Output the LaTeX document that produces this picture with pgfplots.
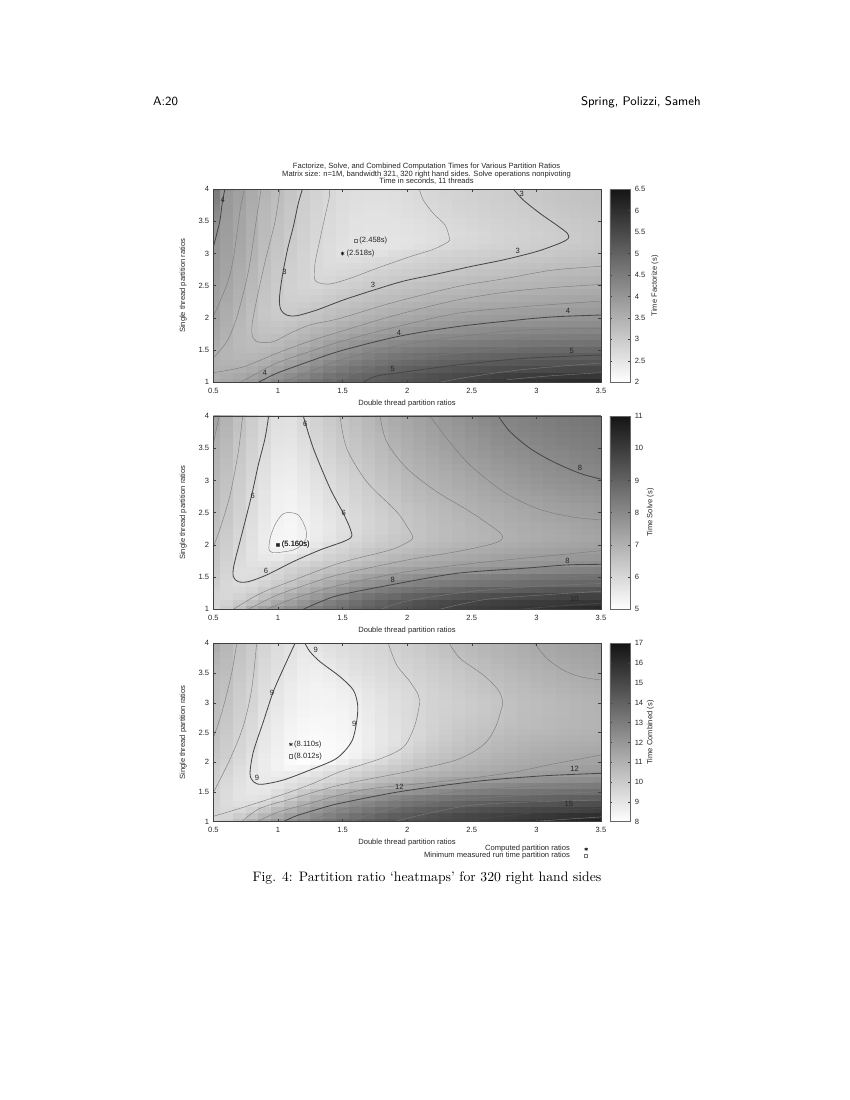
\documentclass[border=0pt]{standalone}
\usepackage{fontspec}
\usepackage{pgfplots}
\usepackage{pgfplotstable}
\pgfplotsset{compat=1.18}
\newfontfamily\hel{Liberation Sans}
\newcommand{\cf}{\hel\fontsize{5.48}{5.4}\selectfont}

% one grid cell of the heat map, half sizes in bp
\pgfdeclareplotmark{cellA}{\pgfpathrectangle{\pgfpoint{-4.75bp}{-2.4bp}}{\pgfpoint{9.5bp}{4.8bp}}\pgfusepathqfill}
\pgfdeclareplotmark{cellB}{\pgfpathrectangle{\pgfpoint{-4.75bp}{-2.22bp}}{\pgfpoint{9.5bp}{4.44bp}}\pgfusepathqfill}

\pgfplotsset{
  lt/.style={forget plot, smooth, no marks, draw=black!52, line width=0.3bp},
  dk/.style={forget plot, smooth, no marks, draw=black!72, line width=0.6bp},
  star/.style={only marks, mark=asterisk, mark size=1.3bp, mark options={line width=0.45bp}, black!90},
  box/.style={only marks, mark=square, mark size=1.1bp, draw=black!55},
  heat/.style={
    scale only axis, width=279.1bp, anchor=south west,
    clip marker paths=true,
    xmin=0.5, xmax=3.5, ymin=1, ymax=4,
    xtick={0.5,1,1.5,2,2.5,3,3.5}, ytick={1,1.5,2,2.5,3,3.5,4},
    xticklabels={0.5,1,1.5,2,2.5,3,3.5}, yticklabels={1,1.5,2,2.5,3,3.5,4},
    /pgf/number format/assume math mode=true,
    tick align=inside, major tick length=2bp, axis on top,
    axis line style={black!75, line width=0.4bp},
    tick style={black!75, line width=0.3bp},
    every tick label/.append style={font=\cf, text=black!85},
    x tick label style={yshift=-0.8bp},
    y tick label style={xshift=0.5bp},
    xlabel style={font=\cf, text=black!85, at={(axis description cs:0.4996,-0.11)}, anchor=center},
    ylabel style={font=\cf, text=black!85, at={(axis description cs:-0.078,0.5)}, anchor=center},
    xlabel={Double thread partition ratios},
    ylabel={Single thread partition ratios},
    colormap={wb}{color(0)=(white) color(1)=(black!92)},
    colorbar shift/.style={xshift=-0.7bp},
  },
  cbar/.style={colorbar, colorbar style={
      width=14.4bp, ytick={#1}, yticklabels={#1},
      /pgf/number format/assume math mode=true,
      tick align=inside, major tick length=1.5bp,
      axis line style={black!60, line width=0.4bp},
      tick style={black!75, line width=0.3bp},
      ytick pos=both, yticklabel pos=right,
      every tick label/.append style={font=\cf, text=black!85},
  }},
  cblab/.style 2 args={colorbar style={ylabel={#1},
      ylabel style={font=\cf, text=black!85, at={(axis description cs:#2,0.5)}, anchor=center, rotate=0}}},
}

\pgfplotstableread{
y c0 c1 c2 c3 c4 c5 c6 c7 c8 c9 c10 c11 c12 c13 c14 c15 c16 c17 c18 c19 c20 c21 c22 c23 c24 c25 c26 c27 c28 c29 c30
4.0 4.55 3.98 3.82 3.62 3.42  3.28 3.12 2.98 2.86 2.75  2.68 2.64 2.62 2.63 2.66  2.70 2.75 2.79 2.83 2.86  2.89 2.92 2.95 2.98 3.02  3.06 3.09 3.12 3.15 3.18  3.21
3.9 4.48 3.95 3.79 3.60 3.40  3.26 3.10 2.96 2.84 2.74  2.66 2.62 2.60 2.61 2.63  2.67 2.72 2.77 2.81 2.84  2.87 2.91 2.94 2.97 3.01  3.05 3.08 3.11 3.14 3.17  3.20
3.8 4.40 3.93 3.77 3.58 3.38  3.24 3.08 2.94 2.82 2.73  2.65 2.60 2.59 2.59 2.61  2.65 2.69 2.75 2.79 2.83  2.86 2.90 2.93 2.96 3.00  3.03 3.06 3.10 3.13 3.16  3.18
3.7 4.30 3.92 3.75 3.56 3.36  3.22 3.06 2.93 2.81 2.72  2.64 2.59 2.57 2.57 2.59  2.62 2.66 2.72 2.77 2.81  2.84 2.88 2.91 2.94 2.97  3.00 3.04 3.08 3.11 3.14  3.15
3.6 4.22 3.90 3.72 3.54 3.34  3.20 3.05 2.92 2.80 2.71  2.63 2.58 2.56 2.56 2.57  2.60 2.64 2.69 2.74 2.78  2.82 2.86 2.89 2.92 2.95  2.98 3.01 3.05 3.08 3.11  3.13
3.5 4.15 3.88 3.71 3.52 3.32  3.18 3.04 2.91 2.79 2.70  2.62 2.56 2.55 2.55 2.56  2.58 2.61 2.66 2.71 2.75  2.79 2.83 2.86 2.89 2.92  2.95 2.98 3.01 3.05 3.08  3.11
3.4 4.05 3.86 3.70 3.51 3.30  3.16 3.02 2.90 2.78 2.69  2.61 2.55 2.53 2.53 2.54  2.56 2.59 2.62 2.68 2.72  2.76 2.80 2.84 2.87 2.90  2.93 2.96 2.99 3.03 3.07  3.10
3.3 4.03 3.85 3.69 3.50 3.29  3.14 3.00 2.88 2.77 2.68  2.60 2.53 2.52 2.52 2.53  2.55 2.57 2.60 2.65 2.69  2.73 2.77 2.81 2.84 2.87  2.90 2.93 2.97 3.01 3.05  3.09
3.2 4.01 3.83 3.67 3.48 3.28  3.12 2.99 2.87 2.76 2.67  2.59 2.52 2.51 2.50 2.51  2.53 2.56 2.60 2.66 2.72  2.75 2.79 2.82 2.85 2.88  2.91 2.94 2.97 3.00 3.04  3.08
3.1 3.99 3.81 3.65 3.46 3.26  3.10 2.97 2.85 2.75 2.65  2.58 2.52 2.50 2.50 2.51  2.56 2.60 2.65 2.71 2.76  2.79 2.83 2.86 2.89 2.92  2.95 2.98 3.01 3.04 3.07  3.10
3.0 3.97 3.79 3.63 3.44 3.24  3.08 2.95 2.84 2.73 2.64  2.57 2.52 2.53 2.58 2.64  2.70 2.75 2.80 2.84 2.87  2.89 2.92 2.95 2.97 3.00  3.03 3.05 3.08 3.11 3.14  3.17
2.9 3.95 3.77 3.61 3.42 3.22  3.06 2.93 2.83 2.72 2.64  2.60 2.63 2.67 2.71 2.75  2.79 2.83 2.87 2.91 2.94  2.97 3.00 3.03 3.05 3.08  3.11 3.13 3.16 3.19 3.22  3.24
2.8 3.93 3.75 3.59 3.40 3.20  3.05 2.92 2.82 2.72 2.66  2.68 2.71 2.75 2.79 2.83  2.87 2.91 2.95 2.99 3.02  3.05 3.08 3.11 3.13 3.16  3.19 3.21 3.23 3.25 3.26  3.27
2.7 3.90 3.73 3.57 3.38 3.18  3.03 2.90 2.81 2.73 2.70  2.74 2.78 2.83 2.87 2.91  2.96 3.00 3.04 3.07 3.10  3.14 3.17 3.19 3.22 3.25  3.28 3.30 3.32 3.34 3.36  3.38
2.6 3.87 3.71 3.55 3.36 3.16  3.02 2.89 2.81 2.75 2.76  2.81 2.86 2.91 2.96 3.01  3.05 3.09 3.13 3.16 3.20  3.23 3.26 3.28 3.31 3.33  3.36 3.38 3.40 3.42 3.44  3.46
2.5 3.83 3.69 3.52 3.34 3.14  3.00 2.88 2.81 2.78 2.83  2.89 2.94 3.00 3.05 3.10  3.14 3.18 3.22 3.25 3.28  3.32 3.35 3.37 3.39 3.41  3.43 3.45 3.47 3.49 3.50  3.51
2.4 3.80 3.66 3.49 3.31 3.12  2.99 2.88 2.84 2.85 2.91  2.98 3.04 3.09 3.14 3.19  3.23 3.27 3.31 3.35 3.38  3.41 3.44 3.46 3.48 3.51  3.53 3.55 3.57 3.59 3.60  3.61
2.3 3.78 3.63 3.46 3.29 3.10  2.98 2.91 2.90 2.93 2.99  3.06 3.13 3.18 3.23 3.28  3.33 3.37 3.41 3.45 3.48  3.51 3.54 3.56 3.59 3.61  3.63 3.65 3.67 3.69 3.71  3.72
2.2 3.77 3.60 3.44 3.26 3.08  2.98 2.95 2.97 3.02 3.08  3.15 3.22 3.28 3.34 3.39  3.44 3.48 3.52 3.56 3.59  3.62 3.65 3.67 3.69 3.72  3.74 3.76 3.78 3.80 3.81  3.83
2.1 3.76 3.57 3.41 3.23 3.07  2.99 2.99 3.04 3.11 3.18  3.25 3.32 3.38 3.44 3.50  3.55 3.60 3.64 3.68 3.71  3.74 3.77 3.79 3.81 3.84  3.86 3.88 3.89 3.91 3.93  3.95
2.0 3.75 3.54 3.38 3.22 3.08  3.01 3.02 3.08 3.17 3.25  3.33 3.41 3.48 3.55 3.62  3.66 3.71 3.75 3.79 3.83  3.86 3.89 3.91 3.93 3.95  3.97 3.99 4.01 4.03 4.05  4.06
1.9 3.71 3.52 3.36 3.22 3.12  3.08 3.12 3.20 3.29 3.38  3.47 3.54 3.62 3.69 3.75  3.81 3.85 3.90 3.94 3.98  4.00 4.03 4.05 4.07 4.10  4.12 4.14 4.15 4.17 4.18  4.19
1.8 3.67 3.49 3.34 3.23 3.16  3.15 3.22 3.31 3.41 3.51  3.60 3.68 3.76 3.83 3.90  3.95 4.00 4.04 4.08 4.12  4.15 4.18 4.20 4.22 4.25  4.27 4.28 4.30 4.31 4.32  4.33
1.7 3.63 3.46 3.32 3.25 3.21  3.23 3.31 3.41 3.52 3.64  3.74 3.84 3.92 3.98 4.05  4.10 4.16 4.20 4.24 4.27  4.31 4.33 4.36 4.38 4.40  4.42 4.44 4.45 4.47 4.48  4.49
1.6 3.58 3.43 3.31 3.27 3.26  3.31 3.41 3.53 3.66 3.80  3.92 4.03 4.11 4.18 4.24  4.30 4.35 4.39 4.43 4.47  4.50 4.53 4.56 4.58 4.60  4.62 4.64 4.66 4.67 4.68  4.69
1.5 3.53 3.40 3.33 3.30 3.34  3.40 3.51 3.65 3.80 3.92  4.05 4.16 4.26 4.35 4.42  4.49 4.54 4.59 4.64 4.68  4.71 4.74 4.77 4.79 4.81  4.83 4.85 4.86 4.87 4.88  4.89
1.4 3.49 3.41 3.37 3.37 3.43  3.52 3.64 3.79 3.94 4.08  4.20 4.31 4.42 4.52 4.60  4.67 4.72 4.78 4.83 4.87  4.91 4.94 4.97 4.99 5.01  5.03 5.04 5.05 5.06 5.07  5.08
1.3 3.48 3.44 3.43 3.46 3.55  3.66 3.79 3.94 4.10 4.24  4.36 4.48 4.59 4.69 4.78  4.85 4.90 4.96 5.01 5.05  5.09 5.13 5.16 5.18 5.20  5.22 5.23 5.24 5.25 5.26  5.27
1.2 3.50 3.50 3.53 3.60 3.70  3.83 3.96 4.12 4.28 4.43  4.56 4.68 4.79 4.88 4.97  5.03 5.09 5.15 5.20 5.25  5.30 5.34 5.37 5.40 5.43  5.45 5.47 5.48 5.50 5.51  5.52
1.1 3.53 3.58 3.66 3.75 3.88  4.03 4.17 4.33 4.49 4.64  4.77 4.87 4.96 5.04 5.12  5.19 5.26 5.33 5.39 5.45  5.51 5.56 5.61 5.65 5.69  5.72 5.75 5.77 5.79 5.80  5.81
1.0 3.58 3.65 3.74 3.88 4.06  4.22 4.38 4.54 4.68 4.82  4.92 4.97 5.04 5.12 5.19  5.25 5.31 5.38 5.47 5.55  5.60 5.68 5.75 5.80 5.85  5.90 5.94 5.98 6.02 6.05  6.08
}\tabF

\pgfplotstableread{
y c0 c1 c2 c3 c4 c5 c6 c7 c8 c9 c10 c11 c12 c13 c14 c15 c16 c17 c18 c19 c20 c21 c22 c23 c24 c25 c26 c27 c28 c29 c30
4.0 7.40 6.95 6.62 6.30 6.05  5.80 5.78 6.00 6.18 6.35  6.50 6.66 6.82 7.00 7.13  7.25 7.38 7.50 7.62 7.74  7.86 8.00 8.07 8.14 8.20  8.26 8.32 8.38 8.43 8.49  8.55
3.9 7.28 6.90 6.58 6.27 6.02  5.78 5.76 5.97 6.14 6.31  6.47 6.62 6.78 6.95 7.10  7.22 7.34 7.46 7.58 7.70  7.82 7.94 8.04 8.10 8.16  8.22 8.28 8.34 8.40 8.45  8.50
3.8 7.18 6.86 6.54 6.24 6.00  5.76 5.73 5.93 6.11 6.28  6.44 6.58 6.74 6.90 7.06  7.18 7.30 7.42 7.54 7.65  7.77 7.88 7.98 8.06 8.12  8.18 8.24 8.30 8.36 8.41  8.46
3.7 7.08 6.82 6.50 6.21 5.97  5.73 5.70 5.88 6.07 6.24  6.40 6.54 6.69 6.84 7.00  7.14 7.26 7.38 7.49 7.60  7.71 7.82 7.92 8.00 8.07  8.13 8.19 8.25 8.31 8.36  8.41
3.6 7.00 6.78 6.46 6.18 5.94  5.70 5.66 5.84 6.03 6.20  6.36 6.50 6.64 6.79 6.95  7.08 7.21 7.33 7.44 7.55  7.65 7.75 7.86 7.94 8.00  8.07 8.13 8.19 8.25 8.30  8.35
3.5 6.95 6.74 6.42 6.15 5.90  5.66 5.62 5.79 5.98 6.15  6.32 6.46 6.60 6.74 6.90  7.02 7.15 7.27 7.38 7.49  7.59 7.69 7.79 7.87 7.94  8.00 8.07 8.13 8.19 8.25  8.30
3.4 6.92 6.70 6.39 6.12 5.86  5.62 5.58 5.74 5.93 6.10  6.27 6.41 6.55 6.69 6.84  6.97 7.09 7.21 7.32 7.43  7.53 7.62 7.72 7.81 7.88  7.94 8.00 8.06 8.12 8.18  8.23
3.3 6.89 6.66 6.36 6.09 5.82  5.58 5.54 5.70 5.88 6.04  6.21 6.36 6.50 6.64 6.78  6.92 7.03 7.14 7.25 7.36  7.46 7.55 7.64 7.73 7.81  7.88 7.94 8.00 8.06 8.12  8.17
3.2 6.86 6.62 6.33 6.06 5.78  5.54 5.50 5.66 5.83 5.99  6.15 6.30 6.45 6.59 6.73  6.87 6.98 7.08 7.18 7.28  7.38 7.48 7.56 7.65 7.73  7.81 7.88 7.94 8.00 8.06  8.11
3.1 6.83 6.58 6.30 6.03 5.76  5.50 5.46 5.62 5.78 5.94  6.10 6.25 6.40 6.54 6.68  6.82 6.93 7.02 7.12 7.21  7.31 7.40 7.49 7.58 7.66  7.74 7.81 7.87 7.93 7.99  8.05
3.0 6.80 6.55 6.27 6.00 5.73  5.46 5.44 5.59 5.74 5.90  6.05 6.20 6.35 6.49 6.63  6.77 6.88 6.97 7.06 7.15  7.24 7.33 7.42 7.51 7.59  7.67 7.74 7.80 7.86 7.92  7.98
2.9 6.77 6.52 6.24 5.97 5.70  5.43 5.40 5.54 5.70 5.86  6.00 6.15 6.30 6.44 6.58  6.72 6.83 6.92 7.01 7.10  7.18 7.27 7.36 7.44 7.52  7.60 7.66 7.72 7.78 7.84  7.90
2.8 6.75 6.49 6.21 5.94 5.67  5.40 5.36 5.50 5.66 5.82  5.96 6.10 6.25 6.39 6.53  6.67 6.78 6.87 6.96 7.04  7.12 7.20 7.28 7.36 7.44  7.51 7.57 7.63 7.69 7.75  7.80
2.7 6.72 6.47 6.19 5.92 5.65  5.38 5.33 5.46 5.62 5.78  5.92 6.06 6.20 6.34 6.48  6.62 6.72 6.81 6.90 6.98  7.06 7.13 7.20 7.28 7.35  7.42 7.48 7.54 7.59 7.64  7.69
2.6 6.68 6.45 6.17 5.90 5.63  5.36 5.30 5.43 5.58 5.74  5.88 6.02 6.16 6.29 6.43  6.56 6.66 6.75 6.84 6.92  7.00 7.07 7.14 7.21 7.28  7.34 7.40 7.45 7.50 7.55  7.60
2.5 6.65 6.43 6.14 5.87 5.60  5.35 5.28 5.40 5.53 5.68  5.83 5.97 6.11 6.24 6.37  6.50 6.60 6.70 6.79 6.87  6.95 7.02 7.09 7.16 7.22  7.28 7.34 7.39 7.44 7.49  7.53
2.4 6.62 6.40 6.11 5.83 5.57  5.33 5.26 5.37 5.50 5.64  5.79 5.94 6.07 6.20 6.33  6.46 6.56 6.66 6.75 6.83  6.91 6.98 7.04 7.11 7.17  7.23 7.28 7.33 7.38 7.42  7.46
2.3 6.59 6.37 6.08 5.80 5.54  5.30 5.24 5.35 5.48 5.62  5.78 5.93 6.06 6.19 6.31  6.44 6.54 6.63 6.72 6.79  6.87 6.93 6.99 7.05 7.11  7.17 7.22 7.27 7.32 7.36  7.40
2.2 6.56 6.33 6.05 5.77 5.51  5.28 5.23 5.33 5.47 5.62  5.78 5.94 6.08 6.20 6.31  6.43 6.53 6.62 6.70 6.77  6.84 6.90 6.96 7.01 7.07  7.12 7.17 7.22 7.26 7.30  7.34
2.1 6.53 6.28 6.02 5.75 5.49  5.26 5.22 5.34 5.50 5.67  5.85 6.00 6.15 6.28 6.39  6.48 6.56 6.63 6.70 6.77  6.83 6.89 6.95 7.00 7.05  7.10 7.15 7.19 7.23 7.27  7.31
2.0 6.50 6.24 5.98 5.73 5.48  5.22 5.24 5.40 5.60 5.82  6.00 6.12 6.24 6.36 6.46  6.55 6.63 6.72 6.80 6.88  6.94 7.00 7.05 7.10 7.15  7.20 7.24 7.28 7.32 7.36  7.40
1.9 6.48 6.20 5.96 5.72 5.50  5.35 5.40 5.60 5.82 5.98  6.13 6.27 6.42 6.52 6.60  6.70 6.80 6.88 6.96 7.02  7.08 7.14 7.19 7.24 7.29  7.34 7.38 7.42 7.46 7.49  7.52
1.8 6.45 6.16 5.92 5.72 5.58  5.55 5.68 5.85 6.00 6.14  6.28 6.43 6.56 6.68 6.80  6.90 6.98 7.05 7.12 7.18  7.24 7.29 7.35 7.40 7.45  7.50 7.54 7.58 7.62 7.65  7.68
1.7 6.42 6.12 5.88 5.75 5.72  5.85 5.98 6.10 6.24 6.38  6.52 6.65 6.78 6.90 7.00  7.08 7.16 7.24 7.32 7.38  7.44 7.50 7.55 7.60 7.65  7.70 7.74 7.78 7.82 7.85  7.88
1.6 6.38 6.08 5.84 5.80 5.88  6.02 6.17 6.32 6.47 6.62  6.78 6.92 7.06 7.18 7.30  7.38 7.46 7.53 7.60 7.66  7.72 7.78 7.84 7.90 7.96  8.00 8.05 8.10 8.15 8.18  8.22
1.5 6.33 6.04 5.85 5.87 5.95  6.12 6.30 6.47 6.66 6.88  7.03 7.24 7.42 7.55 7.66  7.78 7.88 7.96 8.03 8.10  8.16 8.22 8.28 8.33 8.38  8.45 8.50 8.54 8.58 8.60  8.62
1.4 6.25 6.00 5.90 5.95 6.10  6.30 6.50 6.70 6.92 7.14  7.35 7.58 7.75 7.88 8.00  8.10 8.20 8.28 8.35 8.41  8.47 8.53 8.58 8.63 8.68  8.73 8.77 8.80 8.83 8.85  8.87
1.3 6.15 5.98 6.00 6.10 6.32  6.55 6.78 7.00 7.25 7.50  7.75 7.95 8.15 8.30 8.42  8.52 8.62 8.72 8.80 8.88  8.95 9.00 9.05 9.10 9.15  9.20 9.24 9.28 9.30 9.33  9.36
1.2 6.08 6.02 6.12 6.32 6.60  6.85 7.10 7.35 7.60 7.85  8.10 8.35 8.55 8.70 8.82  8.95 9.05 9.15 9.25 9.33  9.40 9.46 9.52 9.57 9.62  9.66 9.70 9.74 9.77 9.79  9.81
1.1 6.05 6.15 6.38 6.62 6.90  7.20 7.45 7.72 7.98 8.25  8.45 8.65 8.85 9.02 9.18  9.30 9.42 9.53 9.62 9.70  9.75 9.80 9.85 9.90 9.95  9.98 10.01 10.05 10.08 10.10  10.12
1.0 5.98 6.28 6.58 7.10 7.40  7.65 7.88 8.02 8.30 8.50  8.63 8.85 9.05 9.15 9.28  9.40 9.52 9.60 9.75 9.85  9.90 9.95 10.00 10.05 10.08  10.15 10.20 10.26 10.32 10.38  10.45
}\tabS

\pgfplotstableread{
y c0 c1 c2 c3 c4 c5 c6 c7 c8 c9 c10 c11 c12 c13 c14 c15 c16 c17 c18 c19 c20 c21 c22 c23 c24 c25 c26 c27 c28 c29 c30
4.0 11.20 10.75 10.35 10.05 9.65  9.35 9.15 8.98 9.05 9.20  9.30 9.40 9.52 9.65 9.78  9.90 10.05 10.25 10.40 10.55  10.67 10.79 10.91 11.03 11.15  11.27 11.37 11.48 11.58 11.66  11.75
3.9 11.08 10.70 10.30 10.00 9.60  9.30 9.10 8.92 8.98 9.13  9.26 9.36 9.47 9.60 9.75  9.86 10.00 10.18 10.34 10.50  10.62 10.75 10.87 10.99 11.11  11.22 11.33 11.42 11.52 11.60  11.68
3.8 10.95 10.65 10.25 9.95 9.55  9.27 9.05 8.84 8.88 9.05  9.20 9.32 9.44 9.56 9.68  9.81 9.94 10.10 10.27 10.43  10.56 10.70 10.82 10.94 11.05  11.16 11.26 11.35 11.44 11.52  11.60
3.7 10.85 10.60 10.20 9.90 9.50  9.22 9.00 8.78 8.80 8.95  9.12 9.26 9.38 9.50 9.63  9.75 9.87 10.02 10.18 10.34  10.48 10.60 10.74 10.87 10.98  11.08 11.18 11.27 11.36 11.44  11.52
3.6 10.75 10.55 10.15 9.85 9.45  9.18 8.94 8.72 8.70 8.84  9.02 9.18 9.30 9.42 9.55  9.68 9.82 9.95 10.10 10.24  10.38 10.52 10.64 10.77 10.89  10.99 11.09 11.18 11.27 11.35  11.43
3.5 10.65 10.50 10.10 9.78 9.40  9.13 8.89 8.67 8.62 8.74  8.90 9.10 9.24 9.36 9.48  9.61 9.75 9.88 10.03 10.15  10.28 10.42 10.54 10.66 10.78  10.89 10.99 11.09 11.17 11.25  11.33
3.4 10.60 10.45 10.05 9.72 9.35  9.08 8.84 8.62 8.56 8.64  8.80 8.98 9.16 9.30 9.43  9.56 9.69 9.82 9.96 10.09  10.22 10.34 10.47 10.58 10.70  10.81 10.91 11.00 11.08 11.15  11.22
3.3 10.57 10.40 10.00 9.68 9.30  9.03 8.78 8.58 8.50 8.56  8.70 8.87 9.05 9.22 9.37  9.50 9.63 9.76 9.90 10.02  10.15 10.27 10.40 10.52 10.63  10.74 10.84 10.93 11.02 11.08  11.15
3.2 10.55 10.35 9.95 9.65 9.25  8.98 8.72 8.54 8.47 8.50  8.62 8.78 8.96 9.13 9.30  9.45 9.58 9.70 9.84 9.96  10.08 10.20 10.33 10.46 10.56  10.67 10.76 10.85 10.94 11.01  11.08
3.1 10.53 10.30 9.90 9.62 9.20  8.93 8.68 8.50 8.44 8.47  8.56 8.70 8.90 9.08 9.25  9.40 9.55 9.68 9.78 9.90  10.02 10.14 10.26 10.39 10.50  10.60 10.68 10.77 10.85 10.92  10.98
3.0 10.50 10.27 9.85 9.60 9.15  8.90 8.65 8.48 8.41 8.44  8.50 8.64 8.84 9.03 9.22  9.38 9.53 9.68 9.74 9.85  9.98 10.10 10.22 10.36 10.47  10.53 10.62 10.71 10.79 10.86  10.94
2.9 10.48 10.22 9.82 9.55 9.10  8.85 8.60 8.44 8.38 8.40  8.46 8.60 8.80 9.00 9.20  9.36 9.52 9.68 9.78 9.88  9.99 10.11 10.23 10.36 10.48  10.55 10.63 10.71 10.79 10.85  10.92
2.8 10.45 10.18 9.78 9.50 9.07  8.81 8.55 8.40 8.34 8.36  8.43 8.57 8.78 8.98 9.18  9.36 9.53 9.67 9.80 9.92  10.01 10.12 10.25 10.38 10.50  10.56 10.64 10.72 10.79 10.85  10.90
2.7 10.42 10.14 9.75 9.46 9.03  8.78 8.50 8.36 8.30 8.32  8.40 8.55 8.76 8.96 9.16  9.35 9.53 9.68 9.83 9.96  10.07 10.18 10.29 10.40 10.51  10.58 10.66 10.73 10.80 10.85  10.90
2.6 10.38 10.10 9.71 9.42 9.00  8.74 8.46 8.32 8.27 8.29  8.37 8.52 8.72 8.94 9.14  9.34 9.53 9.70 9.87 10.03  10.15 10.26 10.37 10.47 10.54  10.60 10.68 10.75 10.80 10.85  10.90
2.5 10.35 10.05 9.68 9.38 8.96  8.70 8.42 8.29 8.24 8.26  8.34 8.50 8.70 8.92 9.12  9.34 9.54 9.72 9.92 10.08  10.22 10.34 10.45 10.56 10.64  10.70 10.76 10.82 10.87 10.91  10.95
2.4 10.32 10.00 9.65 9.33 8.91  8.66 8.38 8.24 8.20 8.22  8.30 8.47 8.68 8.90 9.12  9.36 9.58 9.78 9.98 10.15  10.31 10.44 10.55 10.65 10.75  10.81 10.86 10.92 10.97 11.01  11.05
2.3 10.28 9.95 9.60 9.28 8.87  8.62 8.34 8.20 8.12 8.18  8.28 8.45 8.68 8.92 9.16  9.42 9.66 9.90 10.08 10.25  10.40 10.53 10.65 10.75 10.85  10.92 10.98 11.04 11.08 11.12  11.15
2.2 10.22 9.90 9.55 9.20 8.82  8.58 8.30 8.16 8.10 8.16  8.28 8.46 8.72 9.00 9.28  9.55 9.80 10.03 10.20 10.37  10.50 10.63 10.75 10.85 10.95  11.03 11.10 11.16 11.20 11.24  11.27
2.1 10.15 9.85 9.48 9.12 8.76  8.53 8.26 8.12 8.08 8.18  8.34 8.54 8.84 9.15 9.45  9.72 9.98 10.18 10.33 10.50  10.64 10.76 10.88 10.98 11.07  11.15 11.22 11.28 11.33 11.38  11.42
2.0 10.05 9.75 9.40 9.05 8.72  8.48 8.20 8.08 8.15 8.35  8.62 8.92 9.20 9.46 9.72  9.95 10.18 10.35 10.50 10.65  10.78 10.90 11.02 11.12 11.20  11.26 11.33 11.40 11.46 11.52  11.55
1.9 9.95 9.65 9.30 8.98 8.72  8.48 8.35 8.42 8.68 8.92  9.15 9.38 9.60 9.82 10.02  10.22 10.40 10.56 10.72 10.86  10.98 11.08 11.18 11.28 11.37  11.45 11.52 11.58 11.64 11.68  11.72
1.8 9.87 9.55 9.22 8.93 8.75  8.68 8.72 8.85 9.05 9.28  9.50 9.72 9.95 10.18 10.38  10.56 10.72 10.88 11.02 11.15  11.27 11.37 11.46 11.54 11.62  11.70 11.76 11.82 11.88 11.94  12.00
1.7 9.82 9.48 9.15 8.90 8.80  8.88 9.00 9.18 9.38 9.58  9.80 10.05 10.30 10.55 10.76  10.95 11.12 11.30 11.45 11.58  11.70 11.80 11.90 12.00 12.06  12.13 12.19 12.25 12.30 12.35  12.40
1.6 9.78 9.42 9.10 8.92 8.88  9.00 9.20 9.45 9.72 9.98  10.24 10.52 10.78 11.02 11.25  11.45 11.65 11.84 12.00 12.12  12.24 12.35 12.45 12.55 12.65  12.72 12.79 12.85 12.92 12.98  13.04
1.5 9.73 9.35 9.05 8.92 8.96  9.25 9.65 10.02 10.36 10.70  11.03 11.28 11.52 11.72 11.90  12.05 12.20 12.35 12.50 12.68  12.82 12.95 13.05 13.14 13.22  13.28 13.34 13.40 13.45 13.50  13.55
1.4 9.70 9.32 9.08 9.02 9.15  9.50 9.95 10.45 10.90 11.25  11.55 11.85 12.08 12.32 12.55  12.75 12.95 13.12 13.26 13.38  13.50 13.58 13.66 13.73 13.80  13.87 13.93 13.99 14.04 14.08  14.12
1.3 9.65 9.35 9.22 9.28 9.55  10.05 10.55 11.02 11.42 11.75  12.05 12.35 12.62 12.88 13.12  13.32 13.50 13.64 13.78 13.92  14.04 14.14 14.24 14.33 14.42  14.50 14.56 14.62 14.68 14.72  14.76
1.2 9.60 9.42 9.50 9.75 10.18  10.65 11.10 11.55 11.95 12.30  12.62 12.92 13.20 13.45 13.66  13.85 14.02 14.18 14.32 14.46  14.58 14.70 14.80 14.88 14.95  15.02 15.08 15.14 15.20 15.25  15.30
1.1 9.60 9.60 9.90 10.30 10.80  11.25 11.68 12.05 12.42 12.78  13.12 13.42 13.68 13.92 14.13  14.30 14.48 14.63 14.78 14.92  15.03 15.13 15.22 15.30 15.42  15.52 15.63 15.72 15.80 15.88  15.95
1.0 9.60 9.80 10.40 11.00 11.45  11.95 12.32 12.68 13.05 13.35  13.62 13.88 14.10 14.30 14.42  14.58 14.72 14.85 14.96 15.04  15.12 15.28 15.38 15.52 15.64  15.80 15.94 16.08 16.20 16.32  16.42
}\tabC

\begin{document}
\begin{tikzpicture}
\path[use as bounding box] (0,0) rectangle (612bp,792bp);

\node[anchor=base west, inner sep=0pt, font=\sffamily\fontsize{9}{11}\selectfont] at (110bp,715.9bp) {A:20};
\node[anchor=base east, inner sep=0pt, font=\sffamily\fontsize{9}{11}\selectfont] at (504.7bp,715.9bp) {Spring, Polizzi, Sameh};

% ---- factorize
\begin{axis}[heat, at={(153.6bp,516.7bp)}, height=139.2bp,
    point meta min=2, point meta max=6.5,
    cbar={2,2.5,3,3.5,4,4.5,5,5.5,6,6.5},
    cblab={Time Factorize (s)}{2.25},
    title style={font=\cf, text=black!85, at={(axis description cs:0.55,0.955)}, anchor=south, align=center},
    title={Factorize, Solve, and Combined Computation Times for Various Partition Ratios\\Matrix size: n=1M, bandwidth 321, 320 right hand sides. Solve operations nonpivoting\\Time in seconds, 11 threads},
  ]
  \pgfplotsinvokeforeach{0,...,30}{
    \addplot[forget plot, scatter, only marks, mark=cellA, point meta=explicit,
      scatter/use mapped color={draw=none, fill=mapped color}]
      table[x expr=0.5+0.1*#1, y=y, meta=c#1] {\tabF};
  }
  \addplot[dk] coordinates {(.59,4)(.57,3.8)(.55,3.5)(.5,3.1)};
  \addplot[lt] coordinates {(.74,4)(.706,3.65)(.655,2.92)(.603,2.51)(.5,2.02)};
  \addplot[lt] coordinates {(.869,4)(.835,3.55)(.771,2.72)(.68,2)(.603,1.63)(.5,1.38)};
  \addplot[lt] coordinates {(1.016,4)(.977,3.49)(.9,2.87)(.822,2.15)(.797,1.84)(.81,1.68)(.861,1.62)(.964,1.63)(1.093,1.76)(1.248,1.89)(1.481,1.993)(1.868,2.226)(2.384,2.484)(2.77,2.614)(3.13,2.743)(3.5,2.8)};
  \addplot[dk] coordinates {(1.19,4)(1.158,3.78)(1.119,3.416)(1.073,3.053)(1.029,2.588)(1.011,2.278)(1.024,2.122)(1.067,2.045)(1.145,2.034)(1.3,2.122)(1.506,2.278)(1.738,2.43)(1.97,2.57)(2.228,2.68)(2.486,2.795)(2.744,2.9)(3.002,3.03)(3.183,3.16)(3.247,3.234)(3.24,3.312)(3.157,3.441)(3.028,3.622)(2.899,3.829)(2.822,4)};
  \addplot[lt] coordinates {(1.398,4)(1.398,3.881)(1.364,3.571)(1.313,3.105)(1.287,2.847)(1.282,2.614)(1.313,2.547)(1.403,2.526)(1.558,2.614)(1.764,2.769)(2.022,2.95)(2.202,3.064)(2.319,3.183)(2.326,3.25)(2.293,3.441)(2.202,3.622)(2.125,3.829)(2.094,4)};
  \addplot[lt] coordinates {(.5,1.15)(.732,1.24)(.99,1.45)(1.248,1.64)(1.481,1.786)(1.868,2.019)(2.384,2.277)(2.9,2.433)(3.5,2.52)};
  \addplot[lt] coordinates {(.71,1)(.82,1.12)(.99,1.3)(1.25,1.48)(1.481,1.63)(1.868,1.838)(2.384,2.07)(2.9,2.174)(3.5,2.262)};
  \addplot[dk] coordinates {(.85,1)(.99,1.14)(1.25,1.33)(1.481,1.486)(1.92,1.708)(2.384,1.864)(2.9,1.977)(3.158,2.019)(3.5,2.045)};
  \addplot[lt] coordinates {(1.03,1)(1.2,1.13)(1.481,1.346)(1.92,1.564)(2.384,1.708)(2.9,1.812)(3.5,1.838)};
  \addplot[lt] coordinates {(1.2,1)(1.481,1.243)(1.92,1.45)(2.384,1.579)(2.9,1.683)(3.5,1.734)};
  \addplot[lt] coordinates {(1.4,1)(1.559,1.12)(1.92,1.346)(2.384,1.45)(2.9,1.553)(3.5,1.579)};
  \addplot[dk] coordinates {(1.66,1)(1.765,1.098)(1.997,1.165)(2.384,1.269)(2.9,1.372)(3.5,1.424)};
  \addplot[lt] coordinates {(2.25,1)(2.5,1.09)(2.9,1.2)(3.5,1.3)};
  \addplot[lt] coordinates {(2.77,1.04)(3.1,1.1)(3.5,1.15)};
  \addplot[box, forget plot] coordinates {(1.6,3.2)};
  \addplot[star, forget plot] coordinates {(1.5,3)};
  \begin{scope}[font=\cf, text=black!85]
    \node[anchor=west, inner sep=0.8bp] at (axis cs:1.62,3.2) {(2.458s)};
    \node[anchor=west, inner sep=0.8bp] at (axis cs:1.52,3) {(2.518s)};
    \node at (axis cs:.572,3.83) {4};
    \node at (axis cs:1.05,2.71) {3};
    \node at (axis cs:1.735,2.51) {3};
    \node at (axis cs:2.855,3.04) {3};
    \node at (axis cs:2.886,3.92) {3};
    \node at (axis cs:3.245,2.107) {4};
    \node at (axis cs:1.937,1.766) {4};
    \node at (axis cs:.897,1.15) {4};
    \node at (axis cs:1.888,1.212) {5};
    \node at (axis cs:3.273,1.486) {5};
  \end{scope}
\end{axis}

% ---- solve
\begin{axis}[heat, at={(153.6bp,353.3bp)}, height=139.2bp,
    point meta min=5, point meta max=11,
    cbar={5,6,7,8,9,10,11},
    cblab={Time Solve (s)}{2.03},
  ]
  \pgfplotsinvokeforeach{0,...,30}{
    \addplot[forget plot, scatter, only marks, mark=cellA, point meta=explicit,
      scatter/use mapped color={draw=none, fill=mapped color}]
      table[x expr=0.5+0.1*#1, y=y, meta=c#1] {\tabS};
  }
  \addplot[lt] coordinates {(1.08,2.505)(1.158,2.464)(1.209,2.283)(1.222,2.128)(1.184,2)(1.119,1.92)(.99,1.88)(.933,1.91)(.939,2.1)(.977,2.31)(1.029,2.464)(1.08,2.505)};
  \addplot[dk] coordinates {(.928,4)(.9,3.653)(.848,3.24)(.797,2.774)(.719,2.153)(.66,1.688)(.655,1.507)(.693,1.429)(.771,1.429)(.913,1.533)(1.119,1.74)(1.325,1.92)(1.506,2.05)(1.57,2.128)(1.558,2.257)(1.506,2.49)(1.403,2.878)(1.274,3.498)(1.196,4)};
  \addplot[lt] coordinates {(.546,4)(.513,3.7)(.5,3.55)};
  \addplot[lt] coordinates {(.727,4)(.693,3.44)(.629,2.77)(.552,2.25)(.5,1.97)};
  \addplot[lt] coordinates {(1.48,4)(1.532,3.498)(1.687,2.98)(1.919,2.515)(2.01,2.25)(2.043,2.13)(2.02,2.06)(1.868,1.92)(1.481,1.72)(1.119,1.45)(.861,1.243)(.655,1)};
  \addplot[lt] coordinates {(1.79,4)(1.841,3.6)(1.996,3.19)(2.228,2.826)(2.486,2.516)(2.68,2.25)(2.735,2.15)(2.73,2.08)(2.65,2.01)(2.384,1.895)(2,1.765)(1.481,1.543)(1.248,1.4)(.99,1.217)(.77,1)};
  \addplot[lt] coordinates {(2.177,4)(2.306,3.653)(2.486,3.24)(2.744,2.826)(3.002,2.567)(3.26,2.438)(3.5,2.386)};
  \addplot[dk] coordinates {(2.705,4)(2.796,3.757)(2.95,3.498)(3.13,3.29)(3.337,3.11)(3.5,3.02)};
  \addplot[lt] coordinates {(.913,1)(1.119,1.165)(1.481,1.377)(2,1.584)(2.513,1.714)(3.03,1.817)(3.5,1.91)};
  \addplot[dk] coordinates {(1.196,1)(1.325,1.114)(1.481,1.222)(1.868,1.377)(2.384,1.558)(2.9,1.636)(3.235,1.688)(3.5,1.698)};
  \addplot[lt] coordinates {(1.4,1)(1.481,1.119)(1.868,1.248)(2.513,1.403)(3.03,1.48)(3.5,1.533)};
  \addplot[lt] coordinates {(1.8,1)(2,1.13)(2.513,1.28)(3.03,1.36)(3.5,1.4)};
  \addplot[lt] coordinates {(2.25,1)(2.6,1.15)(3.03,1.22)(3.5,1.28)};
  \addplot[dk] coordinates {(2.873,1)(3.1,1.04)(3.5,1.095)};
  \addplot[box, forget plot] coordinates {(1,2)};
  \addplot[star, forget plot] coordinates {(1,2)};
  \begin{scope}[font=\cf, text=black!85]
    \node[anchor=west, inner sep=0.8bp] at (axis cs:1.02,2) {(5.160s)};
    \node[anchor=west, inner sep=0.8bp] at (axis cs:1.02,2) {(5.160s)};
    \node at (axis cs:1.212,3.876) {6};
    \node at (axis cs:.804,2.759) {6};
    \node at (axis cs:1.509,2.49) {6};
    \node at (axis cs:.908,1.595) {6};
    \node at (axis cs:3.337,3.188) {8};
    \node at (axis cs:3.24,1.75) {8};
    \node at (axis cs:1.888,1.455) {8};
    \node at (axis cs:3.294,1.155) {10};
  \end{scope}
\end{axis}

% ---- combined
\begin{axis}[heat, at={(153.6bp,200.4bp)}, height=128.4bp,
    point meta min=8, point meta max=17,
    cbar={8,9,10,11,12,13,14,15,16,17},
    cblab={Time Combined (s)}{2.03},
    xlabel style={at={(axis description cs:0.4996,-0.118)}},
    legend style={font=\cf, text=black!85, draw=none, fill=none, at={(0.9665,-0.116)}, anchor=north east,
      row sep=-5bp, column sep=8.6bp, inner sep=0pt},
    legend cell align=right, legend plot pos=right,
  ]
  \pgfplotsinvokeforeach{0,...,30}{
    \addplot[forget plot, scatter, only marks, mark=cellB, point meta=explicit,
      scatter/use mapped color={draw=none, fill=mapped color}]
      table[x expr=0.5+0.1*#1, y=y, meta=c#1] {\tabC};
  }
  \addplot[dk] coordinates {(1.132,4)(1.055,3.636)(.964,3.187)(.887,2.682)(.81,2.178)(.784,1.813)(.81,1.673)(.874,1.628)(1.042,1.701)(1.248,1.869)(1.454,2.065)(1.57,2.346)(1.609,2.682)(1.617,2.963)(1.583,3.215)(1.48,3.439)(1.325,3.692)(1.248,3.86)(1.209,4)};
  \addplot[lt] coordinates {(.681,4)(.642,3.5)(.565,2.83)(.5,2.41)};
  \addplot[lt] coordinates {(.835,4)(.797,3.23)(.732,2.61)(.629,2.05)(.5,1.49)};
  \addplot[lt] coordinates {(1.854,4)(1.919,3.636)(2.022,3.355)(2.086,3.131)(2.094,2.963)(2.06,2.626)(1.996,2.318)(1.919,2.178)(1.764,2.037)(1.481,1.841)(1.274,1.645)(1.042,1.46)(.745,1.25)(.5,1.09)};
  \addplot[lt] coordinates {(2.326,4)(2.409,3.748)(2.589,3.467)(2.705,3.215)(2.739,3.019)(2.731,2.907)(2.68,2.57)(2.589,2.29)(2.384,2.04)(1.997,1.841)(1.481,1.617)(1.119,1.393)(.861,1.224)(.72,1)};
  \addplot[lt] coordinates {(.84,1)(1,1.16)(1.25,1.31)(1.481,1.449)(1.739,1.561)(2.255,1.673)(2.771,1.813)(3.13,1.97)(3.5,2.122)};
  \addplot[lt] coordinates {(2.989,4)(3.08,3.748)(3.208,3.551)(3.337,3.439)(3.5,3.383)};
  \addplot[dk] coordinates {(1.042,1)(1.145,1.1)(1.325,1.22)(1.481,1.309)(1.945,1.505)(2.513,1.673)(3.029,1.768)(3.5,1.813)};
  \addplot[lt] coordinates {(1.25,1)(1.481,1.2)(1.945,1.365)(2.513,1.533)(3.5,1.656)};
  \addplot[lt] coordinates {(1.55,1)(1.945,1.252)(2.513,1.393)(3.5,1.505)};
  \addplot[lt] coordinates {(1.9,1)(2.513,1.28)(3.5,1.365)};
  \addplot[dk] coordinates {(2.435,1)(2.77,1.1)(3.157,1.185)(3.5,1.224)};
  \addplot[lt] coordinates {(2.95,1)(3.5,1.08)};
  \addplot[star] coordinates {(1.1,2.3)};
  \addlegendentry{Computed partition ratios}
  \addplot[box] coordinates {(1.1,2.1)};
  \addlegendentry{Minimum measured run time partition ratios}
  \begin{scope}[font=\cf, text=black!85]
    \node[anchor=west, inner sep=0.8bp] at (axis cs:1.115,2.3) {(8.110s)};
    \node[anchor=west, inner sep=0.8bp] at (axis cs:1.115,2.1) {(8.012s)};
    \node at (axis cs:1.292,3.888) {9};
    \node at (axis cs:.954,3.17) {9};
    \node at (axis cs:1.591,2.643) {9};
    \node at (axis cs:.838,1.74) {9};
    \node at (axis cs:3.296,1.886) {12};
    \node at (axis cs:1.939,1.578) {12};
    \node at (axis cs:3.252,1.297) {15};
  \end{scope}
\end{axis}

\node[font=\fontsize{9.9}{12}\selectfont] at (307.4bp,159.9bp) {Fig. 4: Partition ratio ‘heatmaps’ for 320 right hand sides};
\end{tikzpicture}
\end{document}
